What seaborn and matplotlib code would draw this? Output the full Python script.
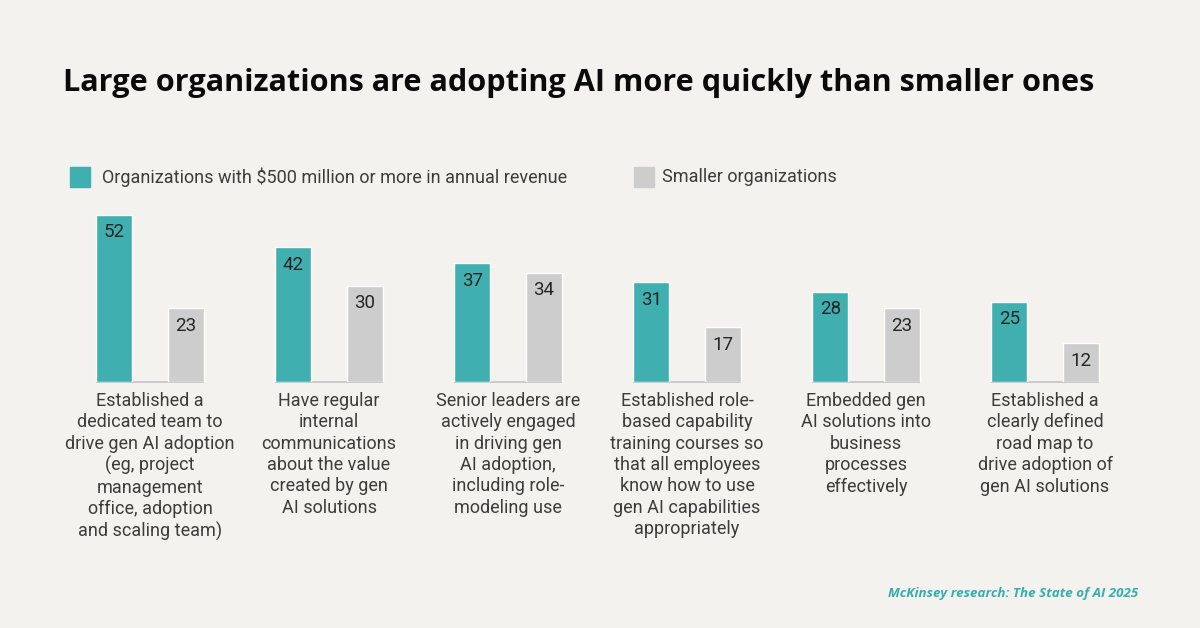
import matplotlib
matplotlib.use("Agg")
import matplotlib.pyplot as plt
import matplotlib.transforms as mtransforms
import seaborn as sns
import pandas as pd

# data
categories = [
    "Established a\ndedicated team to\ndrive gen AI adoption\n(eg, project\nmanagement\noffice, adoption\nand scaling team)",
    "Have regular\ninternal\ncommunications\nabout the value\ncreated by gen\nAI solutions",
    "Senior leaders are\nactively engaged\nin driving gen\nAI adoption,\nincluding role-\nmodeling use",
    "Established role-\nbased capability\ntraining courses so\nthat all employees\nknow how to use\ngen AI capabilities\nappropriately",
    "Embedded gen\nAI solutions into\nbusiness\nprocesses\neffectively",
    "Established a\nclearly defined\nroad map to\ndrive adoption of\ngen AI solutions",
]
large_orgs = [52, 42, 37, 31, 28, 25]
small_orgs = [23, 30, 34, 17, 23, 12]
series_names = ["Organizations with $500 million or more in annual revenue",
                "Smaller organizations"]

title = "Large organizations are adopting AI more quickly than smaller ones"
source = "McKinsey research: The State of AI 2025"

# style
BG = "#f3f2ee"
TEAL = "#40afb0"
GREY = "#cdcdcd"
TXT = "#3c3c3c"

sns.set_theme(style="white")
plt.rcParams["font.family"] = ["Roboto", "DejaVu Sans"]

df = pd.DataFrame({
    "cat": list(range(len(categories))) * 2,
    "value": large_orgs + small_orgs,
    "group": [series_names[0]] * len(categories) + [series_names[1]] * len(categories),
})

W, H = 1200, 628
fig = plt.figure(figsize=(12, 6.28), dpi=100)
fig.patch.set_facecolor(BG)

# axes: baseline at y=382px, 3.21 px per unit, group centers at 150 + 179*i
base_px = 382
ymax = 60
ax = fig.add_axes([0, (H - base_px) / H, 1, ymax * 3.21 / H])
ax.set_facecolor("none")

sns.barplot(data=df, x="cat", y="value", hue="group", hue_order=series_names,
            palette=[TEAL, GREY], width=0.8, gap=0.5, dodge=True,
            saturation=1, legend=False, ax=ax, errorbar=None)

ax.set_xlim(-150 / 179, (W - 150) / 179)
ax.set_ylim(0, ymax)
ax.axis("off")

# value labels inside top of bars
for container in ax.containers:
    for bar in container:
        h = bar.get_height()
        ax.annotate(f"{h:.0f}", (bar.get_x() + bar.get_width() / 2, h),
                    xytext=(0, -6), textcoords="offset points",
                    ha="center", va="top", fontsize=13.5, color="#262626")

# thin baseline per group
for i in range(len(categories)):
    ax.plot([i - 0.3, i + 0.3], [0, 0], color="#c4c4c4", lw=1.2,
            solid_capstyle="butt", zorder=0.5, clip_on=False)

# category labels under each group
trans = mtransforms.blended_transform_factory(ax.transData, fig.transFigure)
for i, lab in enumerate(categories):
    ax.text(i, (H - 392) / H, lab, transform=trans, ha="center", va="top",
            fontsize=13, color=TXT, linespacing=1.24, multialignment="center")

# title
fig.text(63 / W, 1 - 83 / H, title, ha="left", va="center",
         fontsize=22.1, fontweight="bold", color="#0a0a0a",
         family=["Open Sans", "DejaVu Sans"])

# legend
fig.patches.append(plt.Rectangle((70 / W, 1 - 187 / H), 20 / W, 20 / H,
                                 transform=fig.transFigure, color=TEAL))
fig.text(102 / W, 1 - 177 / H, series_names[0], ha="left", va="center",
         fontsize=13, color=TXT)
fig.patches.append(plt.Rectangle((634 / W, 1 - 187 / H), 20 / W, 20 / H,
                                 transform=fig.transFigure, color=GREY))
fig.text(662 / W, 1 - 177 / H, series_names[1], ha="left", va="center",
         fontsize=13, color=TXT)

# source
fig.text(1138 / W, 1 - 594 / H, source, ha="right", va="center",
         fontsize=9.65, fontweight="bold", fontstyle="italic", color="#35aeb0",
         family=["Open Sans", "DejaVu Sans"])

fig.savefig("out.png", dpi=100, facecolor=BG)
